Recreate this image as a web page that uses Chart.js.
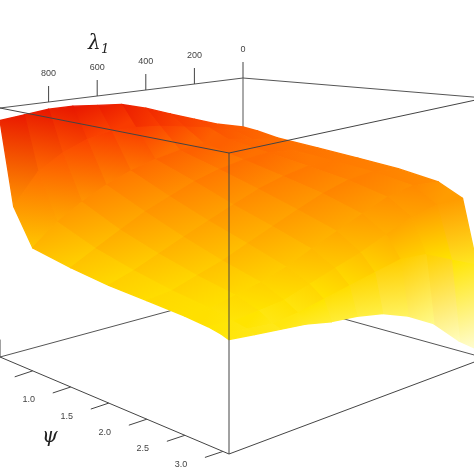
<!DOCTYPE html>
<html>
<head>
<meta charset="utf-8">
<script src="https://cdn.jsdelivr.net/npm/chart.js@4"></script>
<style>
  html, body { margin: 0; padding: 0; background: #fff; }
  #grafico { display: block; }
</style>
</head>
<body>
<canvas id="grafico" width="474" height="474"></canvas>
<script>
// dados da superfície
const lambdaGrid = [0, 100, 200, 300, 400, 500, 600, 700, 800, 900, 1000];
const psiGrid = [0.07, 0.25, 0.5, 1.0, 1.5, 2.0, 2.5, 2.8, 2.98, 3.08];
const zRows = [
  [0.77, 0.76, 0.74, 0.72, 0.70, 0.68, 0.65, 0.60, 0.35, 0.02],
  [0.80, 0.78, 0.75, 0.73, 0.71, 0.69, 0.66, 0.60, 0.40, 0.10],
  [0.84, 0.81, 0.77, 0.74, 0.71, 0.68, 0.64, 0.58, 0.45, 0.20],
  [0.88, 0.83, 0.77, 0.73, 0.69, 0.65, 0.60, 0.54, 0.46, 0.26],
  [0.92, 0.85, 0.76, 0.71, 0.66, 0.61, 0.56, 0.50, 0.44, 0.30],
  [0.95, 0.86, 0.74, 0.68, 0.62, 0.57, 0.52, 0.47, 0.42, 0.32],
  [0.96, 0.86, 0.71, 0.64, 0.58, 0.53, 0.48, 0.44, 0.40, 0.33],
  [0.97, 0.84, 0.67, 0.60, 0.54, 0.49, 0.45, 0.41, 0.38, 0.35],
  [0.97, 0.80, 0.62, 0.55, 0.50, 0.46, 0.43, 0.40, 0.37, 0.36],
  [0.96, 0.74, 0.56, 0.50, 0.46, 0.43, 0.41, 0.39, 0.38, 0.37],
  [0.95, 0.62, 0.48, 0.45, 0.43, 0.42, 0.41, 0.40, 0.39, 0.38]
];
const lambdaTicks = [0, 200, 400, 600, 800];
const psiTicks = [0.5, 1.0, 1.5, 2.0, 2.5, 3.0];

const lambdaMax = 1000, psiMin = 0.07, psiMax = 3.08;

// cantos da caixa na tela: [u = lambda][v = psi][w = altura]
const cantos = {
  '000': [243, 291], '001': [243, 78],
  '100': [0, 357],   '101': [0, 108],
  '010': [485, 358], '011': [485, 98],
  '110': [229, 454], '111': [229, 153]
};

function proj(u, v, w) {
  let x = 0, y = 0;
  for (const a of [0, 1]) for (const b of [0, 1]) for (const c of [0, 1]) {
    const p = cantos['' + a + b + c];
    const k = (a ? u : 1 - u) * (b ? v : 1 - v) * (c ? w : 1 - w);
    x += p[0] * k; y += p[1] * k;
  }
  return { x: x, y: y };
}
const uOf = l => l / lambdaMax;
const vOf = p => (p - psiMin) / (psiMax - psiMin);

// pontos da malha para o Chart.js
const pontos = [];
lambdaGrid.forEach((l, i) => psiGrid.forEach((p, j) => {
  pontos.push(proj(uOf(l), vOf(p), zRows[i][j]));
}));

function corAltura(z) {
  const stops = [
    [0.00, [255, 255, 235]], [0.18, [255, 252, 150]], [0.40, [255, 228, 0]],
    [0.55, [255, 172, 0]], [0.70, [255, 125, 0]], [0.85, [250, 62, 0]], [1.0, [228, 12, 0]]
  ];
  let c = stops[stops.length - 1][1];
  for (let s = 1; s < stops.length; s++) {
    if (z <= stops[s][0]) {
      const t = (z - stops[s - 1][0]) / (stops[s][0] - stops[s - 1][0]);
      c = stops[s - 1][1].map((a, k) => a + (stops[s][1][k] - a) * t);
      break;
    }
  }
  return `rgb(${Math.round(c[0])},${Math.round(c[1])},${Math.round(c[2])})`;
}

function linha(ctx, a, b) {
  ctx.beginPath(); ctx.moveTo(a.x, a.y); ctx.lineTo(b.x, b.y); ctx.stroke();
}

const superficie = {
  id: 'superficie',
  afterDatasetsDraw(chart) {
    const ctx = chart.ctx;
    const sx = chart.scales.x, sy = chart.scales.y;
    const P = (u, v, w) => { const q = proj(u, v, w); return { x: sx.getPixelForValue(q.x), y: sy.getPixelForValue(q.y) }; };
    const el = chart.getDatasetMeta(0).data;
    const nP = psiGrid.length;
    ctx.save();
    ctx.strokeStyle = '#555';
    ctx.lineWidth = 1;
    // arestas de trás
    linha(ctx, P(0, 0, 1), P(1, 0, 1));
    linha(ctx, P(0, 0, 1), P(0, 1, 1));
    linha(ctx, P(0, 0, 0), P(0, 0, 1));
    linha(ctx, P(0, 0, 0), P(1, 0, 0));
    linha(ctx, P(0, 0, 0), P(0, 1, 0));

    // quadriláteros de trás para frente
    const quads = [];
    for (let i = 0; i < lambdaGrid.length - 1; i++)
      for (let j = 0; j < nP - 1; j++) quads.push({ i, j, d: i + j * 1.1 });
    quads.sort((a, b) => a.d - b.d);
    ctx.lineJoin = 'round';
    quads.forEach(q => {
      const ia = q.i * nP + q.j, ib = (q.i + 1) * nP + q.j;
      const ic = (q.i + 1) * nP + q.j + 1, id = q.i * nP + q.j + 1;
      const a = el[ia], b = el[ib], c = el[ic], d = el[id];
      const zs = [zRows[q.i][q.j], zRows[q.i + 1][q.j], zRows[q.i + 1][q.j + 1], zRows[q.i][q.j + 1]];
      const pts = [a, b, c, d];
      const top = zs.indexOf(Math.max(...zs)), low = zs.indexOf(Math.min(...zs));
      let g;
      if (Math.hypot(pts[top].x - pts[low].x, pts[top].y - pts[low].y) > 0.5) {
        g = ctx.createLinearGradient(pts[top].x, pts[top].y, pts[low].x, pts[low].y);
        g.addColorStop(0, corAltura(zs[top]));
        g.addColorStop(1, corAltura(zs[low]));
      } else g = corAltura(zs[top]);
      ctx.fillStyle = g; ctx.strokeStyle = g; ctx.lineWidth = 1.4;
      ctx.beginPath();
      ctx.moveTo(a.x, a.y); ctx.lineTo(b.x, b.y); ctx.lineTo(c.x, c.y); ctx.lineTo(d.x, d.y);
      ctx.closePath(); ctx.fill(); ctx.stroke();
    });

    // arestas da frente
    ctx.strokeStyle = '#444';
    ctx.lineWidth = 1;
    linha(ctx, P(1, 1, 1), P(1, 0, 1));
    linha(ctx, P(1, 1, 1), P(0, 1, 1));
    linha(ctx, P(1, 1, 0), P(1, 1, 1));
    linha(ctx, P(1, 1, 0), P(1, 0, 0));
    linha(ctx, P(1, 1, 0), P(0, 1, 0));
    linha(ctx, P(1, 0, 0), P(1, 0, 0.07));

    // eixo lambda
    ctx.fillStyle = '#444';
    ctx.font = '9px "Liberation Sans", Arial, sans-serif';
    ctx.textAlign = 'center';
    ctx.textBaseline = 'middle';
    lambdaTicks.forEach(l => {
      const p = P(uOf(l), 0, 1);
      linha(ctx, p, { x: p.x, y: p.y - 16 });
      ctx.fillText(String(l), p.x, p.y - 28);
    });
    // eixo psi
    psiTicks.forEach(s => {
      const p = P(1, vOf(s), 0);
      linha(ctx, p, { x: p.x - 18, y: p.y + 6 });
      ctx.fillText(s.toFixed(1), p.x - 42, p.y + 13);
    });
    // títulos
    ctx.fillStyle = '#222';
    ctx.font = 'italic 20px "DejaVu Serif", serif';
    ctx.textAlign = 'left';
    ctx.fillText('\u03BB', 88, 44);
    ctx.font = 'italic 13px "DejaVu Serif", serif';
    ctx.fillText('1', 101, 50);
    ctx.font = 'italic 20px "DejaVu Serif", serif';
    ctx.fillText('\u03C8', 42, 437);
    ctx.restore();
  }
};

new Chart(document.getElementById('grafico').getContext('2d'), {
  type: 'scatter',
  data: { datasets: [{ data: pontos, pointRadius: 0, showLine: false }] },
  options: {
    responsive: false,
    animation: false,
    layout: { padding: 0 },
    plugins: { legend: { display: false }, tooltip: { enabled: false } },
    scales: {
      x: { type: 'linear', min: 0, max: 474, display: false },
      y: { type: 'linear', min: 0, max: 474, reverse: true, display: false }
    }
  },
  plugins: [superficie]
});
</script>
</body>
</html>
